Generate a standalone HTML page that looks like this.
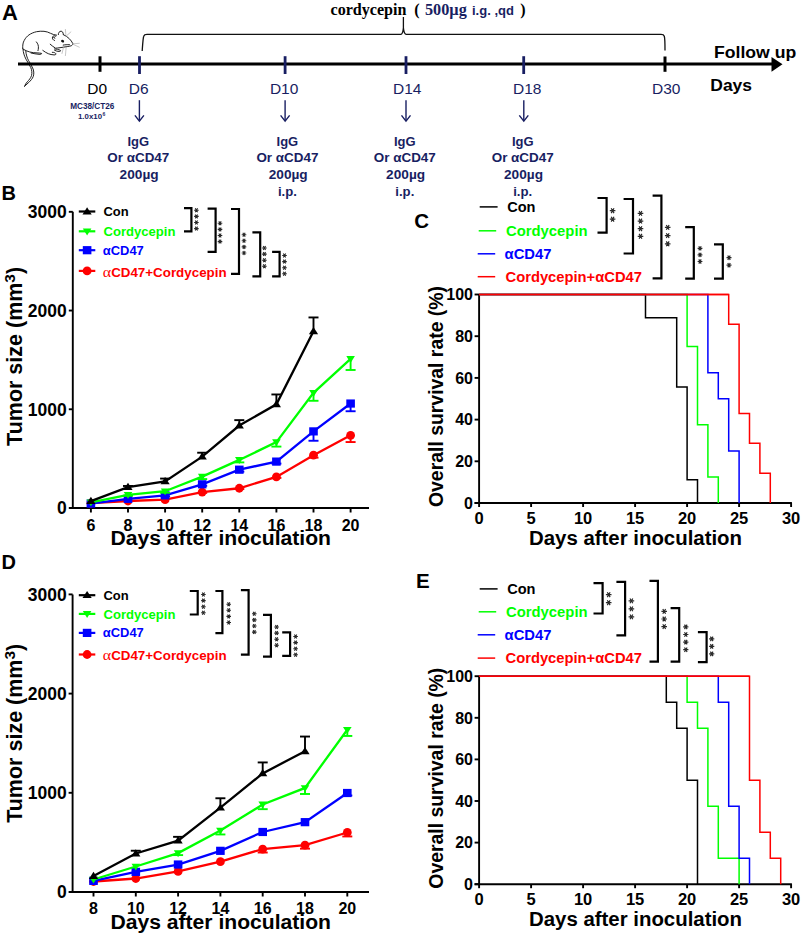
<!DOCTYPE html><html><head><meta charset="utf-8"><style>html,body{margin:0;padding:0;background:#fff;}svg{display:block;}text{font-family:"Liberation Sans",sans-serif;font-weight:bold;}</style></head><body>
<svg width="803" height="937" viewBox="0 0 803 937">
<rect width="803" height="937" fill="#fff"/>
<text x="2" y="20" font-size="22" fill="#000000">A</text>
<g fill="none" stroke="#151515" stroke-width="0.95" stroke-linecap="round" stroke-linejoin="round">
<path d="M22.7 48.6 C22.6 45 23 42.5 24.2 40.5 C25.5 38 27 36.3 29 34.9 C31 33.5 33.5 32.4 36.5 31.7 C39 31.2 41.5 31.1 44 31.3 C46.5 31.5 48.5 32.3 50.5 33.3 C52.5 34.3 54.5 35 56.6 35.2"/>
<path d="M55.8 36.2 C54.6 35.4 53 35.7 52.5 37 C52 38.5 53 40.2 54.5 40.5 M53.7 37.4 C54.3 37.1 55 37.5 54.9 38.3"/>
<path d="M58.3 34.6 C58.2 32.6 59.6 31.2 61 31.2 C62.3 31.2 63.3 32.4 63.3 34.3"/>
<path d="M63.3 34.6 C65.5 35.5 67.5 37 69.3 38.7 C70.8 40.2 72 41.8 72.8 43.6 C72.8 44.6 72.1 45.4 71.2 45.8 C70 46.2 68.5 46.4 67.2 46.6 C65 46.9 62.5 47.3 60 47.7 C58.3 47.9 56.8 48.1 55.6 48.2 C53.5 47 51.8 45.6 50.2 44.2"/>
<path d="M63.2 45.1 C65 44.7 67 44.6 69.5 44.7"/>
<path d="M36.4 41.9 C37.9 43.6 38.6 45.8 38.4 48 C38.3 49.2 38.2 50 38 50.6"/>
<path d="M23.2 49.2 C25 50.3 27.2 51.3 29.8 52 C32 52.6 34.5 52.8 37 52.9 C38.8 53 40.5 53.1 41.6 53.4 C41.8 54.1 40.7 54.4 39 54.3 C36.5 54.1 33.5 53.6 31 53"/>
<path d="M42.8 50.4 C44.7 51.8 46.5 53 48.3 53.7 C50 54.4 52 54.8 54 54.9 C55.5 55 56.2 54.4 55.8 53.6 C55.3 52.7 53.8 52.2 52.3 52.3"/>
<path d="M54.5 48.9 C56.5 49 58.5 49.4 60.2 50.2 C61 50.8 60.6 51.5 59.3 51.5 C57.6 51.5 56 51 54.6 50.3"/>
<path d="M23 49 C23.2 52.5 24.3 56 26 59.2 C27.6 62.2 29.5 64.8 30.8 67.6 C31.9 70.2 32.2 73 31.5 75.6 C30.8 78 29 80 27.3 81.8 C26.2 83 25.2 84.5 24.6 86.2"/>
<path d="M25.8 51 C26 54.5 27 57.6 28.6 60.6 C30.2 63.5 32 66.2 33.1 69 C34 71.6 34 74.3 33.2 76.6 C32.4 78.8 30.6 80.6 28.8 82.4 C27.3 83.8 25.8 85.1 24.6 86.2"/>
<path d="M65.4 29.4 L65.8 34.5 M70.9 31.9 L66.6 35.7 M72.9 43.8 L79.3 43.3 M72.9 44.2 L79.3 47.2 M66.2 47 L65.4 55.6 M63.5 47.2 L62 53.5" stroke="#999" stroke-width="0.55"/>
</g>
<ellipse cx="62.6" cy="41.2" rx="1.6" ry="1.25" fill="#111" transform="rotate(25 62.6 41.2)"/>
<line x1="18" y1="64" x2="773" y2="64" stroke="#000000" stroke-width="3" stroke-linecap="butt"/>
<path d="M771.5 57 L782.5 64.2 L771.5 71.7 Z" fill="#000"/>
<line x1="100" y1="56.3" x2="100" y2="71.8" stroke="#000000" stroke-width="3" stroke-linecap="butt"/>
<line x1="665" y1="56.5" x2="665" y2="71.8" stroke="#000000" stroke-width="3" stroke-linecap="butt"/>
<line x1="139.5" y1="56.2" x2="139.5" y2="74" stroke="#181e62" stroke-width="2.8" stroke-linecap="butt"/>
<line x1="285.1" y1="56.2" x2="285.1" y2="74" stroke="#181e62" stroke-width="2.8" stroke-linecap="butt"/>
<line x1="406" y1="56.2" x2="406" y2="74" stroke="#181e62" stroke-width="2.8" stroke-linecap="butt"/>
<line x1="523.7" y1="56.2" x2="523.7" y2="74" stroke="#181e62" stroke-width="2.8" stroke-linecap="butt"/>
<path d="M142.2 51 C142.6 45 143 38 143.7 36.2 C144.2 34.6 145 34.3 147 34.3 L400.9 34.3 C402.6 34.3 403.1 31 403.4 27.9 L403.4 17 M403.4 27.9 C403.7 31 404.3 34.3 406.2 34.3 L661 34.3 C663 34.3 663.8 34.6 664.3 36.2 C664.9 38 665 45 665 50.5" fill="none" stroke="#111" stroke-width="1.3"/>
<text x="330.5" y="14.8" font-size="16" fill="#000000" style="font-family:Liberation Serif;" textLength="76" lengthAdjust="spacingAndGlyphs">cordycepin</text>
<text x="414.3" y="15.3" font-size="16" fill="#000000" style="font-family:Liberation Serif;">(</text>
<text x="425" y="15.2" font-size="16" fill="#181e62" style="font-family:Liberation Serif;" textLength="41.8" lengthAdjust="spacingAndGlyphs">500µg</text>
<text x="472" y="15.2" font-size="13" fill="#181e62" textLength="41.9" lengthAdjust="spacingAndGlyphs">i.g. ,qd</text>
<text x="520.3" y="15.3" font-size="16" fill="#000000" style="font-family:Liberation Serif;">)</text>
<text x="87.2" y="94.2" font-size="15.5" fill="#000000" style="font-weight:normal;">D0</text>
<text x="128.8" y="94.2" font-size="15.5" fill="#181e62" style="font-weight:normal;">D6</text>
<text x="269.9" y="94.2" font-size="15.5" fill="#181e62" style="font-weight:normal;">D10</text>
<text x="393" y="94.2" font-size="15.5" fill="#181e62" style="font-weight:normal;">D14</text>
<text x="513" y="94.2" font-size="15.5" fill="#181e62" style="font-weight:normal;">D18</text>
<text x="652" y="94.2" font-size="15.5" fill="#181e62" style="font-weight:normal;">D30</text>
<text x="70.2" y="109.2" font-size="8.2" fill="#181e62" textLength="44.2" lengthAdjust="spacingAndGlyphs">MC38/CT26</text>
<text x="78" y="119" font-size="8" fill="#181e62" textLength="24" lengthAdjust="spacingAndGlyphs">1.0x10</text>
<text x="102.4" y="115.5" font-size="5" fill="#181e62">6</text>
<line x1="139.4" y1="100.2" x2="139.4" y2="120.5" stroke="#181e62" stroke-width="1.4" stroke-linecap="butt"/>
<path d="M134.9 115.4 L139.4 121.2 L143.9 115.4" fill="none" stroke="#181e62" stroke-width="1.4"/>
<line x1="285.1" y1="100.2" x2="285.1" y2="120.5" stroke="#181e62" stroke-width="1.4" stroke-linecap="butt"/>
<path d="M280.6 115.4 L285.1 121.2 L289.6 115.4" fill="none" stroke="#181e62" stroke-width="1.4"/>
<line x1="406" y1="100.2" x2="406" y2="120.5" stroke="#181e62" stroke-width="1.4" stroke-linecap="butt"/>
<path d="M401.5 115.4 L406 121.2 L410.5 115.4" fill="none" stroke="#181e62" stroke-width="1.4"/>
<line x1="523.8" y1="100.2" x2="523.8" y2="120.5" stroke="#181e62" stroke-width="1.4" stroke-linecap="butt"/>
<path d="M519.3 115.4 L523.8 121.2 L528.3 115.4" fill="none" stroke="#181e62" stroke-width="1.4"/>
<text x="138.3" y="145.8" font-size="13" fill="#181e62" text-anchor="middle" textLength="21.6" lengthAdjust="spacingAndGlyphs">IgG</text>
<text x="138.3" y="162" font-size="13" fill="#181e62" text-anchor="middle" textLength="62" lengthAdjust="spacingAndGlyphs">Or αCD47</text>
<text x="139.1" y="178.8" font-size="13" fill="#181e62" text-anchor="middle" textLength="39" lengthAdjust="spacingAndGlyphs">200µg</text>
<text x="287.4" y="145.8" font-size="13" fill="#181e62" text-anchor="middle" textLength="21.6" lengthAdjust="spacingAndGlyphs">IgG</text>
<text x="287.4" y="162" font-size="13" fill="#181e62" text-anchor="middle" textLength="62" lengthAdjust="spacingAndGlyphs">Or αCD47</text>
<text x="288.2" y="178.8" font-size="13" fill="#181e62" text-anchor="middle" textLength="39" lengthAdjust="spacingAndGlyphs">200µg</text>
<text x="287.4" y="195.6" font-size="13" fill="#181e62" text-anchor="middle" textLength="19" lengthAdjust="spacingAndGlyphs">i.p.</text>
<text x="404.8" y="145.8" font-size="13" fill="#181e62" text-anchor="middle" textLength="21.6" lengthAdjust="spacingAndGlyphs">IgG</text>
<text x="404.8" y="162" font-size="13" fill="#181e62" text-anchor="middle" textLength="62" lengthAdjust="spacingAndGlyphs">Or αCD47</text>
<text x="405.6" y="178.8" font-size="13" fill="#181e62" text-anchor="middle" textLength="39" lengthAdjust="spacingAndGlyphs">200µg</text>
<text x="404.8" y="195.6" font-size="13" fill="#181e62" text-anchor="middle" textLength="19" lengthAdjust="spacingAndGlyphs">i.p.</text>
<text x="522.7" y="145.8" font-size="13" fill="#181e62" text-anchor="middle" textLength="21.6" lengthAdjust="spacingAndGlyphs">IgG</text>
<text x="522.7" y="162" font-size="13" fill="#181e62" text-anchor="middle" textLength="62" lengthAdjust="spacingAndGlyphs">Or αCD47</text>
<text x="523.5" y="178.8" font-size="13" fill="#181e62" text-anchor="middle" textLength="39" lengthAdjust="spacingAndGlyphs">200µg</text>
<text x="522.7" y="195.6" font-size="13" fill="#181e62" text-anchor="middle" textLength="19" lengthAdjust="spacingAndGlyphs">i.p.</text>
<text x="714" y="58.2" font-size="17" fill="#000000" textLength="82.2" lengthAdjust="spacingAndGlyphs">Follow up</text>
<text x="710.3" y="91" font-size="17" fill="#000000" textLength="41.7" lengthAdjust="spacingAndGlyphs">Days</text>
<text x="1.6" y="200.2" font-size="20" fill="#000000">B</text>
<line x1="72.8" y1="211.81" x2="72.8" y2="509" stroke="#000000" stroke-width="1.9" stroke-linecap="butt"/>
<line x1="68.8" y1="508" x2="369" y2="508" stroke="#000000" stroke-width="1.9" stroke-linecap="butt"/>
<line x1="68.8" y1="409.27" x2="72.8" y2="409.27" stroke="#000000" stroke-width="1.9" stroke-linecap="butt"/>
<line x1="68.8" y1="310.54" x2="72.8" y2="310.54" stroke="#000000" stroke-width="1.9" stroke-linecap="butt"/>
<line x1="68.8" y1="211.81" x2="72.8" y2="211.81" stroke="#000000" stroke-width="1.9" stroke-linecap="butt"/>
<line x1="90.9" y1="508" x2="90.9" y2="512.5" stroke="#000000" stroke-width="1.9" stroke-linecap="butt"/>
<line x1="128" y1="508" x2="128" y2="512.5" stroke="#000000" stroke-width="1.9" stroke-linecap="butt"/>
<line x1="165.1" y1="508" x2="165.1" y2="512.5" stroke="#000000" stroke-width="1.9" stroke-linecap="butt"/>
<line x1="202.2" y1="508" x2="202.2" y2="512.5" stroke="#000000" stroke-width="1.9" stroke-linecap="butt"/>
<line x1="239.3" y1="508" x2="239.3" y2="512.5" stroke="#000000" stroke-width="1.9" stroke-linecap="butt"/>
<line x1="276.4" y1="508" x2="276.4" y2="512.5" stroke="#000000" stroke-width="1.9" stroke-linecap="butt"/>
<line x1="313.5" y1="508" x2="313.5" y2="512.5" stroke="#000000" stroke-width="1.9" stroke-linecap="butt"/>
<line x1="350.6" y1="508" x2="350.6" y2="512.5" stroke="#000000" stroke-width="1.9" stroke-linecap="butt"/>
<text x="66.8" y="514.3" font-size="17.5" fill="#000000" text-anchor="end">0</text>
<text x="66.8" y="415.57" font-size="17.5" fill="#000000" text-anchor="end">1000</text>
<text x="66.8" y="316.84" font-size="17.5" fill="#000000" text-anchor="end">2000</text>
<text x="66.8" y="218.11" font-size="17.5" fill="#000000" text-anchor="end">3000</text>
<text x="90.9" y="530.6" font-size="16" fill="#000000" text-anchor="middle">6</text>
<text x="128" y="530.6" font-size="16" fill="#000000" text-anchor="middle">8</text>
<text x="165.1" y="530.6" font-size="16" fill="#000000" text-anchor="middle">10</text>
<text x="202.2" y="530.6" font-size="16" fill="#000000" text-anchor="middle">12</text>
<text x="239.3" y="530.6" font-size="16" fill="#000000" text-anchor="middle">14</text>
<text x="276.4" y="530.6" font-size="16" fill="#000000" text-anchor="middle">16</text>
<text x="313.5" y="530.6" font-size="16" fill="#000000" text-anchor="middle">18</text>
<text x="350.6" y="530.6" font-size="16" fill="#000000" text-anchor="middle">20</text>
<text x="110.5" y="545.3" font-size="20" fill="#000000" textLength="220.5" lengthAdjust="spacingAndGlyphs">Days after inoculation</text>
<text transform="translate(22.2 445.9) rotate(-90)" font-size="21.5">Tumor size (mm<tspan font-size="15.5" dy="-7.7">3</tspan><tspan dy="7.7">)</tspan></text>
<line x1="78.8" y1="211.5" x2="95.3" y2="211.5" stroke="#000000" stroke-width="2.2" stroke-linecap="butt"/>
<path d="M87.1 207.2L91.7 214.4L82.5 214.4Z" fill="#000000"/>
<line x1="78.8" y1="231.3" x2="95.3" y2="231.3" stroke="#00ff00" stroke-width="2.2" stroke-linecap="butt"/>
<path d="M87.1 235.4L91.4 228.5L82.8 228.5Z" fill="#00ff00"/>
<line x1="78.8" y1="250.2" x2="95.3" y2="250.2" stroke="#0000ff" stroke-width="2.2" stroke-linecap="butt"/>
<rect x="82.8" y="246.1" width="8.6" height="8.2" fill="#0000ff"/>
<line x1="78.8" y1="270.9" x2="95.3" y2="270.9" stroke="#ff0000" stroke-width="2.2" stroke-linecap="butt"/>
<circle cx="87.1" cy="270.9" r="4.4" fill="#ff0000"/>
<text x="103.5" y="216.1" font-size="13" fill="#000000" textLength="25.2" lengthAdjust="spacingAndGlyphs">Con</text>
<text x="103.5" y="236" font-size="13" fill="#00ff00" textLength="72" lengthAdjust="spacingAndGlyphs">Cordycepin</text>
<text x="102.8" y="254.6" font-size="13" fill="#0000ff" textLength="41" lengthAdjust="spacingAndGlyphs">αCD47</text>
<text x="102.8" y="276.5" font-size="13" fill="#ff0000" textLength="123.8" lengthAdjust="spacingAndGlyphs"><tspan style="font-family:Liberation Serif;font-weight:normal" font-size="15.5">α</tspan>CD47+Cordycepin</text>
<path d="M184 208.1H191.4V231.4H184" fill="none" stroke="#000000" stroke-width="2.2" stroke-linejoin="miter"/>
<path d="M194.1 210.3L198.7 210.3M195.25 208.31L197.55 212.29M197.55 208.31L195.25 212.29" stroke="#2a2a2a" stroke-width="1.1" fill="none"/>
<path d="M194.1 216.4L198.7 216.4M195.25 214.41L197.55 218.39M197.55 214.41L195.25 218.39" stroke="#2a2a2a" stroke-width="1.1" fill="none"/>
<path d="M194.1 222.5L198.7 222.5M195.25 220.51L197.55 224.49M197.55 220.51L195.25 224.49" stroke="#2a2a2a" stroke-width="1.1" fill="none"/>
<path d="M194.1 228.6L198.7 228.6M195.25 226.61L197.55 230.59M197.55 226.61L195.25 230.59" stroke="#2a2a2a" stroke-width="1.1" fill="none"/>
<path d="M207.6 208.7H215.6V251.8H207.6" fill="none" stroke="#000000" stroke-width="2.2" stroke-linejoin="miter"/>
<path d="M217.7 223.3L222.3 223.3M218.85 221.31L221.15 225.29M221.15 221.31L218.85 225.29" stroke="#2a2a2a" stroke-width="1.1" fill="none"/>
<path d="M217.7 229.4L222.3 229.4M218.85 227.41L221.15 231.39M221.15 227.41L218.85 231.39" stroke="#2a2a2a" stroke-width="1.1" fill="none"/>
<path d="M217.7 235.5L222.3 235.5M218.85 233.51L221.15 237.49M221.15 233.51L218.85 237.49" stroke="#2a2a2a" stroke-width="1.1" fill="none"/>
<path d="M217.7 241.6L222.3 241.6M218.85 239.61L221.15 243.59M221.15 239.61L218.85 243.59" stroke="#2a2a2a" stroke-width="1.1" fill="none"/>
<path d="M231 209H239V273.9H231" fill="none" stroke="#000000" stroke-width="2.2" stroke-linejoin="miter"/>
<path d="M241.7 234.7L246.3 234.7M242.85 232.71L245.15 236.69M245.15 232.71L242.85 236.69" stroke="#2a2a2a" stroke-width="1.1" fill="none"/>
<path d="M241.7 240.8L246.3 240.8M242.85 238.81L245.15 242.79M245.15 238.81L242.85 242.79" stroke="#2a2a2a" stroke-width="1.1" fill="none"/>
<path d="M241.7 246.9L246.3 246.9M242.85 244.91L245.15 248.89M245.15 244.91L242.85 248.89" stroke="#2a2a2a" stroke-width="1.1" fill="none"/>
<path d="M241.7 253L246.3 253M242.85 251.01L245.15 254.99M245.15 251.01L242.85 254.99" stroke="#2a2a2a" stroke-width="1.1" fill="none"/>
<path d="M252.4 232.4H260.2V276.4H252.4" fill="none" stroke="#000000" stroke-width="2.2" stroke-linejoin="miter"/>
<path d="M262.1 248L266.7 248M263.25 246.01L265.55 249.99M265.55 246.01L263.25 249.99" stroke="#2a2a2a" stroke-width="1.1" fill="none"/>
<path d="M262.1 254.1L266.7 254.1M263.25 252.11L265.55 256.09M265.55 252.11L263.25 256.09" stroke="#2a2a2a" stroke-width="1.1" fill="none"/>
<path d="M262.1 260.2L266.7 260.2M263.25 258.21L265.55 262.19M265.55 258.21L263.25 262.19" stroke="#2a2a2a" stroke-width="1.1" fill="none"/>
<path d="M262.1 266.3L266.7 266.3M263.25 264.31L265.55 268.29M265.55 264.31L263.25 268.29" stroke="#2a2a2a" stroke-width="1.1" fill="none"/>
<path d="M272.1 251.8H279.6V276.4H272.1" fill="none" stroke="#000000" stroke-width="2.2" stroke-linejoin="miter"/>
<path d="M282.2 255.5L286.8 255.5M283.35 253.51L285.65 257.49M285.65 253.51L283.35 257.49" stroke="#2a2a2a" stroke-width="1.1" fill="none"/>
<path d="M282.2 261.6L286.8 261.6M283.35 259.61L285.65 263.59M285.65 259.61L283.35 263.59" stroke="#2a2a2a" stroke-width="1.1" fill="none"/>
<path d="M282.2 267.7L286.8 267.7M283.35 265.71L285.65 269.69M285.65 265.71L283.35 269.69" stroke="#2a2a2a" stroke-width="1.1" fill="none"/>
<path d="M282.2 273.8L286.8 273.8M283.35 271.81L285.65 275.79M285.65 271.81L283.35 275.79" stroke="#2a2a2a" stroke-width="1.1" fill="none"/>
<line x1="202.2" y1="492.1" x2="202.2" y2="492.89" stroke="#ff0000" stroke-width="1.9" stroke-linecap="butt"/>
<line x1="197.2" y1="492.89" x2="207.2" y2="492.89" stroke="#ff0000" stroke-width="1.9" stroke-linecap="butt"/>
<line x1="239.3" y1="488.25" x2="239.3" y2="489.04" stroke="#ff0000" stroke-width="1.9" stroke-linecap="butt"/>
<line x1="234.3" y1="489.04" x2="244.3" y2="489.04" stroke="#ff0000" stroke-width="1.9" stroke-linecap="butt"/>
<line x1="276.4" y1="476.9" x2="276.4" y2="477.89" stroke="#ff0000" stroke-width="1.9" stroke-linecap="butt"/>
<line x1="271.4" y1="477.89" x2="281.4" y2="477.89" stroke="#ff0000" stroke-width="1.9" stroke-linecap="butt"/>
<line x1="313.5" y1="455.18" x2="313.5" y2="457.65" stroke="#ff0000" stroke-width="1.9" stroke-linecap="butt"/>
<line x1="308.5" y1="457.65" x2="318.5" y2="457.65" stroke="#ff0000" stroke-width="1.9" stroke-linecap="butt"/>
<line x1="350.6" y1="435.33" x2="350.6" y2="442.05" stroke="#ff0000" stroke-width="1.9" stroke-linecap="butt"/>
<line x1="345.6" y1="442.05" x2="355.6" y2="442.05" stroke="#ff0000" stroke-width="1.9" stroke-linecap="butt"/>
<polyline points="90.9,503.06 128,500.99 165.1,499.71 202.2,492.1 239.3,488.25 276.4,476.9 313.5,455.18 350.6,435.33" fill="none" stroke="#ff0000" stroke-width="2.3" stroke-linejoin="miter"/>
<circle cx="90.9" cy="503.06" r="4.4" fill="#ff0000"/>
<circle cx="128" cy="500.99" r="4.4" fill="#ff0000"/>
<circle cx="165.1" cy="499.71" r="4.4" fill="#ff0000"/>
<circle cx="202.2" cy="492.1" r="4.4" fill="#ff0000"/>
<circle cx="239.3" cy="488.25" r="4.4" fill="#ff0000"/>
<circle cx="276.4" cy="476.9" r="4.4" fill="#ff0000"/>
<circle cx="313.5" cy="455.18" r="4.4" fill="#ff0000"/>
<circle cx="350.6" cy="435.33" r="4.4" fill="#ff0000"/>
<line x1="165.1" y1="495.36" x2="165.1" y2="496.35" stroke="#0000ff" stroke-width="1.9" stroke-linecap="butt"/>
<line x1="160.1" y1="496.35" x2="170.1" y2="496.35" stroke="#0000ff" stroke-width="1.9" stroke-linecap="butt"/>
<line x1="202.2" y1="484.3" x2="202.2" y2="485.79" stroke="#0000ff" stroke-width="1.9" stroke-linecap="butt"/>
<line x1="197.2" y1="485.79" x2="207.2" y2="485.79" stroke="#0000ff" stroke-width="1.9" stroke-linecap="butt"/>
<line x1="239.3" y1="469.69" x2="239.3" y2="471.67" stroke="#0000ff" stroke-width="1.9" stroke-linecap="butt"/>
<line x1="234.3" y1="471.67" x2="244.3" y2="471.67" stroke="#0000ff" stroke-width="1.9" stroke-linecap="butt"/>
<line x1="276.4" y1="461.6" x2="276.4" y2="463.57" stroke="#0000ff" stroke-width="1.9" stroke-linecap="butt"/>
<line x1="271.4" y1="463.57" x2="281.4" y2="463.57" stroke="#0000ff" stroke-width="1.9" stroke-linecap="butt"/>
<line x1="313.5" y1="431.39" x2="313.5" y2="440.76" stroke="#0000ff" stroke-width="1.9" stroke-linecap="butt"/>
<line x1="308.5" y1="440.76" x2="318.5" y2="440.76" stroke="#0000ff" stroke-width="1.9" stroke-linecap="butt"/>
<line x1="350.6" y1="403.54" x2="350.6" y2="411.24" stroke="#0000ff" stroke-width="1.9" stroke-linecap="butt"/>
<line x1="345.6" y1="411.24" x2="355.6" y2="411.24" stroke="#0000ff" stroke-width="1.9" stroke-linecap="butt"/>
<polyline points="90.9,503.56 128,498.82 165.1,495.36 202.2,484.3 239.3,469.69 276.4,461.6 313.5,431.39 350.6,403.54" fill="none" stroke="#0000ff" stroke-width="2.3" stroke-linejoin="miter"/>
<rect x="86.6" y="499.46" width="8.6" height="8.2" fill="#0000ff"/>
<rect x="123.7" y="494.72" width="8.6" height="8.2" fill="#0000ff"/>
<rect x="160.8" y="491.26" width="8.6" height="8.2" fill="#0000ff"/>
<rect x="197.9" y="480.2" width="8.6" height="8.2" fill="#0000ff"/>
<rect x="235" y="465.59" width="8.6" height="8.2" fill="#0000ff"/>
<rect x="272.1" y="457.5" width="8.6" height="8.2" fill="#0000ff"/>
<rect x="309.2" y="427.29" width="8.6" height="8.2" fill="#0000ff"/>
<rect x="346.3" y="399.44" width="8.6" height="8.2" fill="#0000ff"/>
<line x1="128" y1="494.77" x2="128" y2="495.76" stroke="#00ff00" stroke-width="1.9" stroke-linecap="butt"/>
<line x1="123" y1="495.76" x2="133" y2="495.76" stroke="#00ff00" stroke-width="1.9" stroke-linecap="butt"/>
<line x1="165.1" y1="491.22" x2="165.1" y2="492.7" stroke="#00ff00" stroke-width="1.9" stroke-linecap="butt"/>
<line x1="160.1" y1="492.7" x2="170.1" y2="492.7" stroke="#00ff00" stroke-width="1.9" stroke-linecap="butt"/>
<line x1="202.2" y1="476.6" x2="202.2" y2="479.07" stroke="#00ff00" stroke-width="1.9" stroke-linecap="butt"/>
<line x1="197.2" y1="479.07" x2="207.2" y2="479.07" stroke="#00ff00" stroke-width="1.9" stroke-linecap="butt"/>
<line x1="239.3" y1="459.92" x2="239.3" y2="462.39" stroke="#00ff00" stroke-width="1.9" stroke-linecap="butt"/>
<line x1="234.3" y1="462.39" x2="244.3" y2="462.39" stroke="#00ff00" stroke-width="1.9" stroke-linecap="butt"/>
<line x1="276.4" y1="442.15" x2="276.4" y2="446.59" stroke="#00ff00" stroke-width="1.9" stroke-linecap="butt"/>
<line x1="271.4" y1="446.59" x2="281.4" y2="446.59" stroke="#00ff00" stroke-width="1.9" stroke-linecap="butt"/>
<line x1="313.5" y1="392.88" x2="313.5" y2="400.78" stroke="#00ff00" stroke-width="1.9" stroke-linecap="butt"/>
<line x1="308.5" y1="400.78" x2="318.5" y2="400.78" stroke="#00ff00" stroke-width="1.9" stroke-linecap="butt"/>
<line x1="350.6" y1="358.92" x2="350.6" y2="369.98" stroke="#00ff00" stroke-width="1.9" stroke-linecap="butt"/>
<line x1="345.6" y1="369.98" x2="355.6" y2="369.98" stroke="#00ff00" stroke-width="1.9" stroke-linecap="butt"/>
<polyline points="90.9,502.27 128,494.77 165.1,491.22 202.2,476.6 239.3,459.92 276.4,442.15 313.5,392.88 350.6,358.92" fill="none" stroke="#00ff00" stroke-width="2.3" stroke-linejoin="miter"/>
<path d="M90.9 506.37L95.2 499.47L86.6 499.47Z" fill="#00ff00"/>
<path d="M128 498.87L132.3 491.97L123.7 491.97Z" fill="#00ff00"/>
<path d="M165.1 495.32L169.4 488.42L160.8 488.42Z" fill="#00ff00"/>
<path d="M202.2 480.7L206.5 473.8L197.9 473.8Z" fill="#00ff00"/>
<path d="M239.3 464.02L243.6 457.12L235 457.12Z" fill="#00ff00"/>
<path d="M276.4 446.25L280.7 439.35L272.1 439.35Z" fill="#00ff00"/>
<path d="M313.5 396.98L317.8 390.08L309.2 390.08Z" fill="#00ff00"/>
<path d="M350.6 363.02L354.9 356.12L346.3 356.12Z" fill="#00ff00"/>
<line x1="128" y1="487.17" x2="128" y2="485.98" stroke="#000000" stroke-width="1.9" stroke-linecap="butt"/>
<line x1="123" y1="485.98" x2="133" y2="485.98" stroke="#000000" stroke-width="1.9" stroke-linecap="butt"/>
<line x1="165.1" y1="481.34" x2="165.1" y2="478.58" stroke="#000000" stroke-width="1.9" stroke-linecap="butt"/>
<line x1="160.1" y1="478.58" x2="170.1" y2="478.58" stroke="#000000" stroke-width="1.9" stroke-linecap="butt"/>
<line x1="202.2" y1="456.66" x2="202.2" y2="452.71" stroke="#000000" stroke-width="1.9" stroke-linecap="butt"/>
<line x1="197.2" y1="452.71" x2="207.2" y2="452.71" stroke="#000000" stroke-width="1.9" stroke-linecap="butt"/>
<line x1="239.3" y1="425.56" x2="239.3" y2="420.13" stroke="#000000" stroke-width="1.9" stroke-linecap="butt"/>
<line x1="234.3" y1="420.13" x2="244.3" y2="420.13" stroke="#000000" stroke-width="1.9" stroke-linecap="butt"/>
<line x1="276.4" y1="404.33" x2="276.4" y2="394.46" stroke="#000000" stroke-width="1.9" stroke-linecap="butt"/>
<line x1="271.4" y1="394.46" x2="281.4" y2="394.46" stroke="#000000" stroke-width="1.9" stroke-linecap="butt"/>
<line x1="313.5" y1="331.27" x2="313.5" y2="317.45" stroke="#000000" stroke-width="1.9" stroke-linecap="butt"/>
<line x1="308.5" y1="317.45" x2="318.5" y2="317.45" stroke="#000000" stroke-width="1.9" stroke-linecap="butt"/>
<polyline points="90.9,501.09 128,487.17 165.1,481.34 202.2,456.66 239.3,425.56 276.4,404.33 313.5,331.27" fill="none" stroke="#000000" stroke-width="2.3" stroke-linejoin="miter"/>
<path d="M90.9 496.79L95.5 503.99L86.3 503.99Z" fill="#000000"/>
<path d="M128 482.87L132.6 490.07L123.4 490.07Z" fill="#000000"/>
<path d="M165.1 477.04L169.7 484.24L160.5 484.24Z" fill="#000000"/>
<path d="M202.2 452.36L206.8 459.56L197.6 459.56Z" fill="#000000"/>
<path d="M239.3 421.26L243.9 428.46L234.7 428.46Z" fill="#000000"/>
<path d="M276.4 400.03L281 407.23L271.8 407.23Z" fill="#000000"/>
<path d="M313.5 326.97L318.1 334.17L308.9 334.17Z" fill="#000000"/>
<text x="1.5" y="569.4" font-size="20" fill="#000000">D</text>
<line x1="72.6" y1="594.4" x2="72.6" y2="893" stroke="#000000" stroke-width="1.9" stroke-linecap="butt"/>
<line x1="68.6" y1="892" x2="369" y2="892" stroke="#000000" stroke-width="1.9" stroke-linecap="butt"/>
<line x1="68.6" y1="792.8" x2="72.6" y2="792.8" stroke="#000000" stroke-width="1.9" stroke-linecap="butt"/>
<line x1="68.6" y1="693.6" x2="72.6" y2="693.6" stroke="#000000" stroke-width="1.9" stroke-linecap="butt"/>
<line x1="68.6" y1="594.4" x2="72.6" y2="594.4" stroke="#000000" stroke-width="1.9" stroke-linecap="butt"/>
<line x1="93.5" y1="892" x2="93.5" y2="896.5" stroke="#000000" stroke-width="1.9" stroke-linecap="butt"/>
<line x1="135.8" y1="892" x2="135.8" y2="896.5" stroke="#000000" stroke-width="1.9" stroke-linecap="butt"/>
<line x1="178.1" y1="892" x2="178.1" y2="896.5" stroke="#000000" stroke-width="1.9" stroke-linecap="butt"/>
<line x1="220.4" y1="892" x2="220.4" y2="896.5" stroke="#000000" stroke-width="1.9" stroke-linecap="butt"/>
<line x1="262.7" y1="892" x2="262.7" y2="896.5" stroke="#000000" stroke-width="1.9" stroke-linecap="butt"/>
<line x1="305" y1="892" x2="305" y2="896.5" stroke="#000000" stroke-width="1.9" stroke-linecap="butt"/>
<line x1="347.3" y1="892" x2="347.3" y2="896.5" stroke="#000000" stroke-width="1.9" stroke-linecap="butt"/>
<text x="66.8" y="898.3" font-size="17.5" fill="#000000" text-anchor="end">0</text>
<text x="66.8" y="799.1" font-size="17.5" fill="#000000" text-anchor="end">1000</text>
<text x="66.8" y="699.9" font-size="17.5" fill="#000000" text-anchor="end">2000</text>
<text x="66.8" y="600.7" font-size="17.5" fill="#000000" text-anchor="end">3000</text>
<text x="93.5" y="913.7" font-size="16" fill="#000000" text-anchor="middle">8</text>
<text x="135.8" y="913.7" font-size="16" fill="#000000" text-anchor="middle">10</text>
<text x="178.1" y="913.7" font-size="16" fill="#000000" text-anchor="middle">12</text>
<text x="220.4" y="913.7" font-size="16" fill="#000000" text-anchor="middle">14</text>
<text x="262.7" y="913.7" font-size="16" fill="#000000" text-anchor="middle">16</text>
<text x="305" y="913.7" font-size="16" fill="#000000" text-anchor="middle">18</text>
<text x="347.3" y="913.7" font-size="16" fill="#000000" text-anchor="middle">20</text>
<text x="110.5" y="928.9" font-size="20" fill="#000000" textLength="220.5" lengthAdjust="spacingAndGlyphs">Days after inoculation</text>
<text transform="translate(22.2 822.8) rotate(-90)" font-size="21.5">Tumor size (mm<tspan font-size="15.5" dy="-7.7">3</tspan><tspan dy="7.7">)</tspan></text>
<line x1="78.8" y1="595.2" x2="95.3" y2="595.2" stroke="#000000" stroke-width="2.2" stroke-linecap="butt"/>
<path d="M87.1 590.9L91.7 598.1L82.5 598.1Z" fill="#000000"/>
<line x1="78.8" y1="613.9" x2="95.3" y2="613.9" stroke="#00ff00" stroke-width="2.2" stroke-linecap="butt"/>
<path d="M87.1 618L91.4 611.1L82.8 611.1Z" fill="#00ff00"/>
<line x1="78.8" y1="632.9" x2="95.3" y2="632.9" stroke="#0000ff" stroke-width="2.2" stroke-linecap="butt"/>
<rect x="82.8" y="628.8" width="8.6" height="8.2" fill="#0000ff"/>
<line x1="78.8" y1="654.5" x2="95.3" y2="654.5" stroke="#ff0000" stroke-width="2.2" stroke-linecap="butt"/>
<circle cx="87.1" cy="654.5" r="4.4" fill="#ff0000"/>
<text x="103.5" y="599.8" font-size="13" fill="#000000" textLength="25.2" lengthAdjust="spacingAndGlyphs">Con</text>
<text x="103.5" y="618.6" font-size="13" fill="#00ff00" textLength="72" lengthAdjust="spacingAndGlyphs">Cordycepin</text>
<text x="102.8" y="637.3" font-size="13" fill="#0000ff" textLength="41" lengthAdjust="spacingAndGlyphs">αCD47</text>
<text x="102.8" y="660.1" font-size="13" fill="#ff0000" textLength="123.8" lengthAdjust="spacingAndGlyphs"><tspan style="font-family:Liberation Serif;font-weight:normal" font-size="15.5">α</tspan>CD47+Cordycepin</text>
<path d="M189.8 591H197.7V614.5H189.8" fill="none" stroke="#000000" stroke-width="2.2" stroke-linejoin="miter"/>
<path d="M201.1 594.5L205.7 594.5M202.25 592.51L204.55 596.49M204.55 592.51L202.25 596.49" stroke="#2a2a2a" stroke-width="1.1" fill="none"/>
<path d="M201.1 600.6L205.7 600.6M202.25 598.61L204.55 602.59M204.55 598.61L202.25 602.59" stroke="#2a2a2a" stroke-width="1.1" fill="none"/>
<path d="M201.1 606.7L205.7 606.7M202.25 604.71L204.55 608.69M204.55 604.71L202.25 608.69" stroke="#2a2a2a" stroke-width="1.1" fill="none"/>
<path d="M201.1 612.8L205.7 612.8M202.25 610.81L204.55 614.79M204.55 610.81L202.25 614.79" stroke="#2a2a2a" stroke-width="1.1" fill="none"/>
<path d="M215.4 591H222.4V633.2H215.4" fill="none" stroke="#000000" stroke-width="2.2" stroke-linejoin="miter"/>
<path d="M226.4 604.2L231 604.2M227.55 602.21L229.85 606.19M229.85 602.21L227.55 606.19" stroke="#2a2a2a" stroke-width="1.1" fill="none"/>
<path d="M226.4 610.3L231 610.3M227.55 608.31L229.85 612.29M229.85 608.31L227.55 612.29" stroke="#2a2a2a" stroke-width="1.1" fill="none"/>
<path d="M226.4 616.4L231 616.4M227.55 614.41L229.85 618.39M229.85 614.41L227.55 618.39" stroke="#2a2a2a" stroke-width="1.1" fill="none"/>
<path d="M226.4 622.5L231 622.5M227.55 620.51L229.85 624.49M229.85 620.51L227.55 624.49" stroke="#2a2a2a" stroke-width="1.1" fill="none"/>
<path d="M240.9 590.1H248.6V654.6H240.9" fill="none" stroke="#000000" stroke-width="2.2" stroke-linejoin="miter"/>
<path d="M252 613.8L256.6 613.8M253.15 611.81L255.45 615.79M255.45 611.81L253.15 615.79" stroke="#2a2a2a" stroke-width="1.1" fill="none"/>
<path d="M252 619.9L256.6 619.9M253.15 617.91L255.45 621.89M255.45 617.91L253.15 621.89" stroke="#2a2a2a" stroke-width="1.1" fill="none"/>
<path d="M252 626L256.6 626M253.15 624.01L255.45 627.99M255.45 624.01L253.15 627.99" stroke="#2a2a2a" stroke-width="1.1" fill="none"/>
<path d="M252 632.1L256.6 632.1M253.15 630.11L255.45 634.09M255.45 630.11L253.15 634.09" stroke="#2a2a2a" stroke-width="1.1" fill="none"/>
<path d="M263 614.9H270.9V656.7H263" fill="none" stroke="#000000" stroke-width="2.2" stroke-linejoin="miter"/>
<path d="M274.3 627L278.9 627M275.45 625.01L277.75 628.99M277.75 625.01L275.45 628.99" stroke="#2a2a2a" stroke-width="1.1" fill="none"/>
<path d="M274.3 633.1L278.9 633.1M275.45 631.11L277.75 635.09M277.75 631.11L275.45 635.09" stroke="#2a2a2a" stroke-width="1.1" fill="none"/>
<path d="M274.3 639.2L278.9 639.2M275.45 637.21L277.75 641.19M277.75 637.21L275.45 641.19" stroke="#2a2a2a" stroke-width="1.1" fill="none"/>
<path d="M274.3 645.3L278.9 645.3M275.45 643.31L277.75 647.29M277.75 643.31L275.45 647.29" stroke="#2a2a2a" stroke-width="1.1" fill="none"/>
<path d="M282.2 632.3H290.1V655.8H282.2" fill="none" stroke="#000000" stroke-width="2.2" stroke-linejoin="miter"/>
<path d="M293.3 636.5L297.9 636.5M294.45 634.51L296.75 638.49M296.75 634.51L294.45 638.49" stroke="#2a2a2a" stroke-width="1.1" fill="none"/>
<path d="M293.3 642.6L297.9 642.6M294.45 640.61L296.75 644.59M296.75 640.61L294.45 644.59" stroke="#2a2a2a" stroke-width="1.1" fill="none"/>
<path d="M293.3 648.7L297.9 648.7M294.45 646.71L296.75 650.69M296.75 646.71L294.45 650.69" stroke="#2a2a2a" stroke-width="1.1" fill="none"/>
<path d="M293.3 654.8L297.9 654.8M294.45 652.81L296.75 656.79M296.75 652.81L294.45 656.79" stroke="#2a2a2a" stroke-width="1.1" fill="none"/>
<line x1="262.7" y1="849.05" x2="262.7" y2="852.52" stroke="#ff0000" stroke-width="1.9" stroke-linecap="butt"/>
<line x1="257.7" y1="852.52" x2="267.7" y2="852.52" stroke="#ff0000" stroke-width="1.9" stroke-linecap="butt"/>
<line x1="305" y1="845.18" x2="305" y2="848.65" stroke="#ff0000" stroke-width="1.9" stroke-linecap="butt"/>
<line x1="300" y1="848.65" x2="310" y2="848.65" stroke="#ff0000" stroke-width="1.9" stroke-linecap="butt"/>
<line x1="347.3" y1="832.48" x2="347.3" y2="836.45" stroke="#ff0000" stroke-width="1.9" stroke-linecap="butt"/>
<line x1="342.3" y1="836.45" x2="352.3" y2="836.45" stroke="#ff0000" stroke-width="1.9" stroke-linecap="butt"/>
<polyline points="93.5,881.48 135.8,878.51 178.1,871.47 220.4,861.64 262.7,849.05 305,845.18 347.3,832.48" fill="none" stroke="#ff0000" stroke-width="2.3" stroke-linejoin="miter"/>
<circle cx="93.5" cy="881.48" r="4.4" fill="#ff0000"/>
<circle cx="135.8" cy="878.51" r="4.4" fill="#ff0000"/>
<circle cx="178.1" cy="871.47" r="4.4" fill="#ff0000"/>
<circle cx="220.4" cy="861.64" r="4.4" fill="#ff0000"/>
<circle cx="262.7" cy="849.05" r="4.4" fill="#ff0000"/>
<circle cx="305" cy="845.18" r="4.4" fill="#ff0000"/>
<circle cx="347.3" cy="832.48" r="4.4" fill="#ff0000"/>
<line x1="347.3" y1="793" x2="347.3" y2="795.48" stroke="#0000ff" stroke-width="1.9" stroke-linecap="butt"/>
<line x1="342.3" y1="795.48" x2="352.3" y2="795.48" stroke="#0000ff" stroke-width="1.9" stroke-linecap="butt"/>
<polyline points="93.5,880.89 135.8,871.86 178.1,864.52 220.4,850.83 262.7,831.98 305,822.16 347.3,793" fill="none" stroke="#0000ff" stroke-width="2.3" stroke-linejoin="miter"/>
<rect x="89.2" y="876.79" width="8.6" height="8.2" fill="#0000ff"/>
<rect x="131.5" y="867.76" width="8.6" height="8.2" fill="#0000ff"/>
<rect x="173.8" y="860.42" width="8.6" height="8.2" fill="#0000ff"/>
<rect x="216.1" y="846.73" width="8.6" height="8.2" fill="#0000ff"/>
<rect x="258.4" y="827.88" width="8.6" height="8.2" fill="#0000ff"/>
<rect x="300.7" y="818.06" width="8.6" height="8.2" fill="#0000ff"/>
<rect x="343" y="788.9" width="8.6" height="8.2" fill="#0000ff"/>
<line x1="178.1" y1="853.11" x2="178.1" y2="855.1" stroke="#00ff00" stroke-width="1.9" stroke-linecap="butt"/>
<line x1="173.1" y1="855.1" x2="183.1" y2="855.1" stroke="#00ff00" stroke-width="1.9" stroke-linecap="butt"/>
<line x1="220.4" y1="830.5" x2="220.4" y2="834.46" stroke="#00ff00" stroke-width="1.9" stroke-linecap="butt"/>
<line x1="215.4" y1="834.46" x2="225.4" y2="834.46" stroke="#00ff00" stroke-width="1.9" stroke-linecap="butt"/>
<line x1="262.7" y1="804.41" x2="262.7" y2="809.17" stroke="#00ff00" stroke-width="1.9" stroke-linecap="butt"/>
<line x1="257.7" y1="809.17" x2="267.7" y2="809.17" stroke="#00ff00" stroke-width="1.9" stroke-linecap="butt"/>
<line x1="305" y1="787.94" x2="305" y2="793.99" stroke="#00ff00" stroke-width="1.9" stroke-linecap="butt"/>
<line x1="300" y1="793.99" x2="310" y2="793.99" stroke="#00ff00" stroke-width="1.9" stroke-linecap="butt"/>
<line x1="347.3" y1="729.71" x2="347.3" y2="735.96" stroke="#00ff00" stroke-width="1.9" stroke-linecap="butt"/>
<line x1="342.3" y1="735.96" x2="352.3" y2="735.96" stroke="#00ff00" stroke-width="1.9" stroke-linecap="butt"/>
<polyline points="93.5,879.5 135.8,866.51 178.1,853.11 220.4,830.5 262.7,804.41 305,787.94 347.3,729.71" fill="none" stroke="#00ff00" stroke-width="2.3" stroke-linejoin="miter"/>
<path d="M93.5 883.6L97.8 876.7L89.2 876.7Z" fill="#00ff00"/>
<path d="M135.8 870.61L140.1 863.71L131.5 863.71Z" fill="#00ff00"/>
<path d="M178.1 857.21L182.4 850.31L173.8 850.31Z" fill="#00ff00"/>
<path d="M220.4 834.6L224.7 827.7L216.1 827.7Z" fill="#00ff00"/>
<path d="M262.7 808.51L267 801.61L258.4 801.61Z" fill="#00ff00"/>
<path d="M305 792.04L309.3 785.14L300.7 785.14Z" fill="#00ff00"/>
<path d="M347.3 733.81L351.6 726.91L343 726.91Z" fill="#00ff00"/>
<line x1="135.8" y1="853.51" x2="135.8" y2="850.73" stroke="#000000" stroke-width="1.9" stroke-linecap="butt"/>
<line x1="130.8" y1="850.73" x2="140.8" y2="850.73" stroke="#000000" stroke-width="1.9" stroke-linecap="butt"/>
<line x1="178.1" y1="840.61" x2="178.1" y2="836.84" stroke="#000000" stroke-width="1.9" stroke-linecap="butt"/>
<line x1="173.1" y1="836.84" x2="183.1" y2="836.84" stroke="#000000" stroke-width="1.9" stroke-linecap="butt"/>
<line x1="220.4" y1="807.68" x2="220.4" y2="798.26" stroke="#000000" stroke-width="1.9" stroke-linecap="butt"/>
<line x1="215.4" y1="798.26" x2="225.4" y2="798.26" stroke="#000000" stroke-width="1.9" stroke-linecap="butt"/>
<line x1="262.7" y1="773.36" x2="262.7" y2="762.44" stroke="#000000" stroke-width="1.9" stroke-linecap="butt"/>
<line x1="257.7" y1="762.44" x2="267.7" y2="762.44" stroke="#000000" stroke-width="1.9" stroke-linecap="butt"/>
<line x1="305" y1="751.24" x2="305" y2="736.55" stroke="#000000" stroke-width="1.9" stroke-linecap="butt"/>
<line x1="300" y1="736.55" x2="310" y2="736.55" stroke="#000000" stroke-width="1.9" stroke-linecap="butt"/>
<polyline points="93.5,876.03 135.8,853.51 178.1,840.61 220.4,807.68 262.7,773.36 305,751.24" fill="none" stroke="#000000" stroke-width="2.3" stroke-linejoin="miter"/>
<path d="M93.5 871.73L98.1 878.93L88.9 878.93Z" fill="#000000"/>
<path d="M135.8 849.21L140.4 856.41L131.2 856.41Z" fill="#000000"/>
<path d="M178.1 836.31L182.7 843.51L173.5 843.51Z" fill="#000000"/>
<path d="M220.4 803.38L225 810.58L215.8 810.58Z" fill="#000000"/>
<path d="M262.7 769.06L267.3 776.26L258.1 776.26Z" fill="#000000"/>
<path d="M305 746.94L309.6 754.14L300.4 754.14Z" fill="#000000"/>
<text x="414.3" y="227.5" font-size="20.5" fill="#000000">C</text>
<line x1="479.1" y1="294.5" x2="479.1" y2="504" stroke="#000000" stroke-width="1.9" stroke-linecap="butt"/>
<line x1="474.6" y1="503" x2="791.9" y2="503" stroke="#000000" stroke-width="1.9" stroke-linecap="butt"/>
<line x1="474.6" y1="503" x2="479.1" y2="503" stroke="#000000" stroke-width="1.9" stroke-linecap="butt"/>
<text x="473" y="508.7" font-size="16" fill="#000000" text-anchor="end">0</text>
<line x1="474.6" y1="461.3" x2="479.1" y2="461.3" stroke="#000000" stroke-width="1.9" stroke-linecap="butt"/>
<text x="473" y="467" font-size="16" fill="#000000" text-anchor="end">20</text>
<line x1="474.6" y1="419.6" x2="479.1" y2="419.6" stroke="#000000" stroke-width="1.9" stroke-linecap="butt"/>
<text x="473" y="425.3" font-size="16" fill="#000000" text-anchor="end">40</text>
<line x1="474.6" y1="377.9" x2="479.1" y2="377.9" stroke="#000000" stroke-width="1.9" stroke-linecap="butt"/>
<text x="473" y="383.6" font-size="16" fill="#000000" text-anchor="end">60</text>
<line x1="474.6" y1="336.2" x2="479.1" y2="336.2" stroke="#000000" stroke-width="1.9" stroke-linecap="butt"/>
<text x="473" y="341.9" font-size="16" fill="#000000" text-anchor="end">80</text>
<line x1="474.6" y1="294.5" x2="479.1" y2="294.5" stroke="#000000" stroke-width="1.9" stroke-linecap="butt"/>
<text x="473" y="300.2" font-size="16" fill="#000000" text-anchor="end">100</text>
<line x1="479.1" y1="503" x2="479.1" y2="507" stroke="#000000" stroke-width="1.9" stroke-linecap="butt"/>
<text x="479.1" y="523.9" font-size="16.5" fill="#000000" text-anchor="middle">0</text>
<line x1="531.1" y1="503" x2="531.1" y2="507" stroke="#000000" stroke-width="1.9" stroke-linecap="butt"/>
<text x="531.1" y="523.9" font-size="16.5" fill="#000000" text-anchor="middle">5</text>
<line x1="583.1" y1="503" x2="583.1" y2="507" stroke="#000000" stroke-width="1.9" stroke-linecap="butt"/>
<text x="583.1" y="523.9" font-size="16.5" fill="#000000" text-anchor="middle">10</text>
<line x1="635.1" y1="503" x2="635.1" y2="507" stroke="#000000" stroke-width="1.9" stroke-linecap="butt"/>
<text x="635.1" y="523.9" font-size="16.5" fill="#000000" text-anchor="middle">15</text>
<line x1="687.1" y1="503" x2="687.1" y2="507" stroke="#000000" stroke-width="1.9" stroke-linecap="butt"/>
<text x="687.1" y="523.9" font-size="16.5" fill="#000000" text-anchor="middle">20</text>
<line x1="739.1" y1="503" x2="739.1" y2="507" stroke="#000000" stroke-width="1.9" stroke-linecap="butt"/>
<text x="739.1" y="523.9" font-size="16.5" fill="#000000" text-anchor="middle">25</text>
<line x1="791.1" y1="503" x2="791.1" y2="507" stroke="#000000" stroke-width="1.9" stroke-linecap="butt"/>
<text x="791.1" y="523.9" font-size="16.5" fill="#000000" text-anchor="middle">30</text>
<text x="529" y="544.8" font-size="20" fill="#000000" textLength="213" lengthAdjust="spacingAndGlyphs">Days after inoculation</text>
<text transform="translate(442.8 507) rotate(-90)" font-size="20.5" textLength="221" lengthAdjust="spacingAndGlyphs">Overall survival rate (%)</text>
<line x1="479.7" y1="206.9" x2="497.6" y2="206.9" stroke="#000000" stroke-width="1.5" stroke-linecap="butt"/>
<line x1="478.7" y1="230.8" x2="496.2" y2="230.8" stroke="#00ff00" stroke-width="1.5" stroke-linecap="butt"/>
<line x1="477.7" y1="253.8" x2="495.2" y2="253.8" stroke="#0000ff" stroke-width="1.5" stroke-linecap="butt"/>
<line x1="477.7" y1="276.7" x2="495.2" y2="276.7" stroke="#ff0000" stroke-width="1.5" stroke-linecap="butt"/>
<text x="507.2" y="212.2" font-size="14.75" fill="#000000" textLength="28.3" lengthAdjust="spacingAndGlyphs">Con</text>
<text x="506" y="236.1" font-size="14.75" fill="#00ff00" textLength="81.6" lengthAdjust="spacingAndGlyphs">Cordycepin</text>
<text x="504.6" y="259.1" font-size="14.75" fill="#0000ff" textLength="46.8" lengthAdjust="spacingAndGlyphs">αCD47</text>
<text x="505.5" y="282" font-size="14.75" fill="#ff0000" textLength="136.5" lengthAdjust="spacingAndGlyphs">Cordycepin+αCD47</text>
<path d="M597.5 198H606.6V232.6H597.5" fill="none" stroke="#000000" stroke-width="2.2" stroke-linejoin="miter"/>
<path d="M609.8 210.7L615.4 210.7M611.2 208.28L614 213.12M614 208.28L611.2 213.12" stroke="#2a2a2a" stroke-width="1.2" fill="none"/>
<path d="M609.8 219.2L615.4 219.2M611.2 216.78L614 221.62M614 216.78L611.2 221.62" stroke="#2a2a2a" stroke-width="1.2" fill="none"/>
<path d="M623.6 199H633V253.5H623.6" fill="none" stroke="#000000" stroke-width="2.2" stroke-linejoin="miter"/>
<path d="M637.7 213.4L643.3 213.4M639.1 210.98L641.9 215.82M641.9 210.98L639.1 215.82" stroke="#2a2a2a" stroke-width="1.2" fill="none"/>
<path d="M637.7 221.03L643.3 221.03M639.1 218.61L641.9 223.45M641.9 218.61L639.1 223.45" stroke="#2a2a2a" stroke-width="1.2" fill="none"/>
<path d="M637.7 228.66L643.3 228.66M639.1 226.24L641.9 231.08M641.9 226.24L639.1 231.08" stroke="#2a2a2a" stroke-width="1.2" fill="none"/>
<path d="M637.7 236.29L643.3 236.29M639.1 233.87L641.9 238.71M641.9 233.87L639.1 238.71" stroke="#2a2a2a" stroke-width="1.2" fill="none"/>
<path d="M652.6 195.6H661.4V278.4H652.6" fill="none" stroke="#000000" stroke-width="2.2" stroke-linejoin="miter"/>
<path d="M664.9 227.4L670.5 227.4M666.3 224.98L669.1 229.82M669.1 224.98L666.3 229.82" stroke="#2a2a2a" stroke-width="1.2" fill="none"/>
<path d="M664.9 235.6L670.5 235.6M666.3 233.18L669.1 238.02M669.1 233.18L666.3 238.02" stroke="#2a2a2a" stroke-width="1.2" fill="none"/>
<path d="M664.9 243.8L670.5 243.8M666.3 241.38L669.1 246.22M669.1 241.38L666.3 246.22" stroke="#2a2a2a" stroke-width="1.2" fill="none"/>
<path d="M685.2 227.1H693.8V278.7H685.2" fill="none" stroke="#000000" stroke-width="2.2" stroke-linejoin="miter"/>
<path d="M697.6 248.3L702.4 248.3M698.8 246.22L701.2 250.38M701.2 246.22L698.8 250.38" stroke="#2a2a2a" stroke-width="1.2" fill="none"/>
<path d="M697.6 254.9L702.4 254.9M698.8 252.82L701.2 256.98M701.2 252.82L698.8 256.98" stroke="#2a2a2a" stroke-width="1.2" fill="none"/>
<path d="M697.6 261.5L702.4 261.5M698.8 259.42L701.2 263.58M701.2 259.42L698.8 263.58" stroke="#2a2a2a" stroke-width="1.2" fill="none"/>
<path d="M714 244.3H722.8V278.7H714" fill="none" stroke="#000000" stroke-width="2.2" stroke-linejoin="miter"/>
<path d="M726.5 257.7L731.5 257.7M727.75 255.53L730.25 259.87M730.25 255.53L727.75 259.87" stroke="#2a2a2a" stroke-width="1.2" fill="none"/>
<path d="M726.5 265.2L731.5 265.2M727.75 263.03L730.25 267.37M730.25 263.03L727.75 267.37" stroke="#2a2a2a" stroke-width="1.2" fill="none"/>
<polyline points="479.1,294.5 645.5,294.5 645.5,317.64 676.7,317.64 676.7,387.07 687.1,387.07 687.1,479.86 697.5,479.86 697.5,503" fill="none" stroke="#000000" stroke-width="1.5" stroke-linejoin="miter"/>
<polyline points="479.1,294.5 687.1,294.5 687.1,346.62 697.5,346.62 697.5,424.81 707.9,424.81 707.9,476.94 718.3,476.94 718.3,503" fill="none" stroke="#00ff00" stroke-width="1.5" stroke-linejoin="miter"/>
<polyline points="479.1,294.5 707.9,294.5 707.9,372.69 718.3,372.69 718.3,398.75 728.7,398.75 728.7,450.88 739.1,450.88 739.1,503" fill="none" stroke="#0000ff" stroke-width="1.5" stroke-linejoin="miter"/>
<polyline points="479.1,294.5 728.7,294.5 728.7,324.32 739.1,324.32 739.1,413.55 749.5,413.55 749.5,443.37 759.9,443.37 759.9,473.18 770.3,473.18 770.3,503" fill="none" stroke="#ff0000" stroke-width="1.5" stroke-linejoin="miter"/>
<polyline points="479.1,294.5 728.7,294.5" fill="none" stroke="#ff0000" stroke-width="1.5" stroke-linejoin="miter"/>
<text x="415.9" y="587.9" font-size="20.5" fill="#000000">E</text>
<line x1="479.1" y1="676.2" x2="479.1" y2="885.2" stroke="#000000" stroke-width="1.9" stroke-linecap="butt"/>
<line x1="474.6" y1="884.2" x2="791.9" y2="884.2" stroke="#000000" stroke-width="1.9" stroke-linecap="butt"/>
<line x1="474.6" y1="884.2" x2="479.1" y2="884.2" stroke="#000000" stroke-width="1.9" stroke-linecap="butt"/>
<text x="473" y="889.9" font-size="16" fill="#000000" text-anchor="end">0</text>
<line x1="474.6" y1="842.6" x2="479.1" y2="842.6" stroke="#000000" stroke-width="1.9" stroke-linecap="butt"/>
<text x="473" y="848.3" font-size="16" fill="#000000" text-anchor="end">20</text>
<line x1="474.6" y1="801" x2="479.1" y2="801" stroke="#000000" stroke-width="1.9" stroke-linecap="butt"/>
<text x="473" y="806.7" font-size="16" fill="#000000" text-anchor="end">40</text>
<line x1="474.6" y1="759.4" x2="479.1" y2="759.4" stroke="#000000" stroke-width="1.9" stroke-linecap="butt"/>
<text x="473" y="765.1" font-size="16" fill="#000000" text-anchor="end">60</text>
<line x1="474.6" y1="717.8" x2="479.1" y2="717.8" stroke="#000000" stroke-width="1.9" stroke-linecap="butt"/>
<text x="473" y="723.5" font-size="16" fill="#000000" text-anchor="end">80</text>
<line x1="474.6" y1="676.2" x2="479.1" y2="676.2" stroke="#000000" stroke-width="1.9" stroke-linecap="butt"/>
<text x="473" y="681.9" font-size="16" fill="#000000" text-anchor="end">100</text>
<line x1="479.1" y1="884.2" x2="479.1" y2="888.2" stroke="#000000" stroke-width="1.9" stroke-linecap="butt"/>
<text x="479.1" y="905.1" font-size="16.5" fill="#000000" text-anchor="middle">0</text>
<line x1="531.1" y1="884.2" x2="531.1" y2="888.2" stroke="#000000" stroke-width="1.9" stroke-linecap="butt"/>
<text x="531.1" y="905.1" font-size="16.5" fill="#000000" text-anchor="middle">5</text>
<line x1="583.1" y1="884.2" x2="583.1" y2="888.2" stroke="#000000" stroke-width="1.9" stroke-linecap="butt"/>
<text x="583.1" y="905.1" font-size="16.5" fill="#000000" text-anchor="middle">10</text>
<line x1="635.1" y1="884.2" x2="635.1" y2="888.2" stroke="#000000" stroke-width="1.9" stroke-linecap="butt"/>
<text x="635.1" y="905.1" font-size="16.5" fill="#000000" text-anchor="middle">15</text>
<line x1="687.1" y1="884.2" x2="687.1" y2="888.2" stroke="#000000" stroke-width="1.9" stroke-linecap="butt"/>
<text x="687.1" y="905.1" font-size="16.5" fill="#000000" text-anchor="middle">20</text>
<line x1="739.1" y1="884.2" x2="739.1" y2="888.2" stroke="#000000" stroke-width="1.9" stroke-linecap="butt"/>
<text x="739.1" y="905.1" font-size="16.5" fill="#000000" text-anchor="middle">25</text>
<line x1="791.1" y1="884.2" x2="791.1" y2="888.2" stroke="#000000" stroke-width="1.9" stroke-linecap="butt"/>
<text x="791.1" y="905.1" font-size="16.5" fill="#000000" text-anchor="middle">30</text>
<text x="529" y="926" font-size="20" fill="#000000" textLength="213" lengthAdjust="spacingAndGlyphs">Days after inoculation</text>
<text transform="translate(442.8 888.7) rotate(-90)" font-size="20.5" textLength="221" lengthAdjust="spacingAndGlyphs">Overall survival rate (%)</text>
<line x1="479.7" y1="588.9" x2="497.6" y2="588.9" stroke="#000000" stroke-width="1.5" stroke-linecap="butt"/>
<line x1="478.7" y1="611.8" x2="496.2" y2="611.8" stroke="#00ff00" stroke-width="1.5" stroke-linecap="butt"/>
<line x1="477.7" y1="634.8" x2="495.2" y2="634.8" stroke="#0000ff" stroke-width="1.5" stroke-linecap="butt"/>
<line x1="477.7" y1="658.1" x2="495.2" y2="658.1" stroke="#ff0000" stroke-width="1.5" stroke-linecap="butt"/>
<text x="507.2" y="594.2" font-size="14.75" fill="#000000" textLength="28.3" lengthAdjust="spacingAndGlyphs">Con</text>
<text x="506" y="617.1" font-size="14.75" fill="#00ff00" textLength="81.6" lengthAdjust="spacingAndGlyphs">Cordycepin</text>
<text x="504.6" y="640.1" font-size="14.75" fill="#0000ff" textLength="46.8" lengthAdjust="spacingAndGlyphs">αCD47</text>
<text x="505.5" y="663.4" font-size="14.75" fill="#ff0000" textLength="136.5" lengthAdjust="spacingAndGlyphs">Cordycepin+αCD47</text>
<path d="M593.5 583.1H602.6V613.5H593.5" fill="none" stroke="#000000" stroke-width="2.2" stroke-linejoin="miter"/>
<path d="M605.9 594.7L611.5 594.7M607.3 592.28L610.1 597.12M610.1 592.28L607.3 597.12" stroke="#2a2a2a" stroke-width="1.2" fill="none"/>
<path d="M605.9 602.7L611.5 602.7M607.3 600.28L610.1 605.12M610.1 600.28L607.3 605.12" stroke="#2a2a2a" stroke-width="1.2" fill="none"/>
<path d="M616.4 581.9H625.1V635.4H616.4" fill="none" stroke="#000000" stroke-width="2.2" stroke-linejoin="miter"/>
<path d="M628.6 600.9L634.2 600.9M630 598.48L632.8 603.32M632.8 598.48L630 603.32" stroke="#2a2a2a" stroke-width="1.2" fill="none"/>
<path d="M628.6 608.9L634.2 608.9M630 606.48L632.8 611.32M632.8 606.48L630 611.32" stroke="#2a2a2a" stroke-width="1.2" fill="none"/>
<path d="M628.6 616.9L634.2 616.9M630 614.48L632.8 619.32M632.8 614.48L630 619.32" stroke="#2a2a2a" stroke-width="1.2" fill="none"/>
<path d="M649.5 580.8H657.9V661.7H649.5" fill="none" stroke="#000000" stroke-width="2.2" stroke-linejoin="miter"/>
<path d="M661.4 611.4L667 611.4M662.8 608.98L665.6 613.82M665.6 608.98L662.8 613.82" stroke="#2a2a2a" stroke-width="1.2" fill="none"/>
<path d="M661.4 619L667 619M662.8 616.58L665.6 621.42M665.6 616.58L662.8 621.42" stroke="#2a2a2a" stroke-width="1.2" fill="none"/>
<path d="M661.4 626.6L667 626.6M662.8 624.18L665.6 629.02M665.6 624.18L662.8 629.02" stroke="#2a2a2a" stroke-width="1.2" fill="none"/>
<path d="M670.6 608.2H679.2V661.7H670.6" fill="none" stroke="#000000" stroke-width="2.2" stroke-linejoin="miter"/>
<path d="M683.2 626.9L688.4 626.9M684.5 624.65L687.1 629.15M687.1 624.65L684.5 629.15" stroke="#2a2a2a" stroke-width="1.2" fill="none"/>
<path d="M683.2 634.5L688.4 634.5M684.5 632.25L687.1 636.75M687.1 632.25L684.5 636.75" stroke="#2a2a2a" stroke-width="1.2" fill="none"/>
<path d="M683.2 642.1L688.4 642.1M684.5 639.85L687.1 644.35M687.1 639.85L684.5 644.35" stroke="#2a2a2a" stroke-width="1.2" fill="none"/>
<path d="M683.2 649.7L688.4 649.7M684.5 647.45L687.1 651.95M687.1 647.45L684.5 651.95" stroke="#2a2a2a" stroke-width="1.2" fill="none"/>
<path d="M697.9 632.1H706.6V662.2H697.9" fill="none" stroke="#000000" stroke-width="2.2" stroke-linejoin="miter"/>
<path d="M709.1 638.9L714.3 638.9M710.4 636.65L713 641.15M713 636.65L710.4 641.15" stroke="#2a2a2a" stroke-width="1.2" fill="none"/>
<path d="M709.1 646.4L714.3 646.4M710.4 644.15L713 648.65M713 644.15L710.4 648.65" stroke="#2a2a2a" stroke-width="1.2" fill="none"/>
<path d="M709.1 653.9L714.3 653.9M710.4 651.65L713 656.15M713 651.65L710.4 656.15" stroke="#2a2a2a" stroke-width="1.2" fill="none"/>
<polyline points="479.1,676.2 666.3,676.2 666.3,702.2 676.7,702.2 676.7,728.2 687.1,728.2 687.1,780.2 697.5,780.2 697.5,884.2" fill="none" stroke="#000000" stroke-width="1.5" stroke-linejoin="miter"/>
<polyline points="479.1,676.2 687.1,676.2 687.1,702.2 697.5,702.2 697.5,728.2 707.9,728.2 707.9,806.2 718.3,806.2 718.3,858.2 739.1,858.2 739.1,884.2" fill="none" stroke="#00ff00" stroke-width="1.5" stroke-linejoin="miter"/>
<polyline points="479.1,676.2 718.3,676.2 718.3,702.2 728.7,702.2 728.7,806.2 739.1,806.2 739.1,858.2 749.5,858.2 749.5,884.2" fill="none" stroke="#0000ff" stroke-width="1.5" stroke-linejoin="miter"/>
<polyline points="479.1,676.2 749.5,676.2 749.5,780.2 759.9,780.2 759.9,832.2 770.3,832.2 770.3,858.2 780.7,858.2 780.7,884.2" fill="none" stroke="#ff0000" stroke-width="1.5" stroke-linejoin="miter"/>
<polyline points="479.1,676.2 749.5,676.2" fill="none" stroke="#ff0000" stroke-width="1.5" stroke-linejoin="miter"/>
</svg></body></html>
